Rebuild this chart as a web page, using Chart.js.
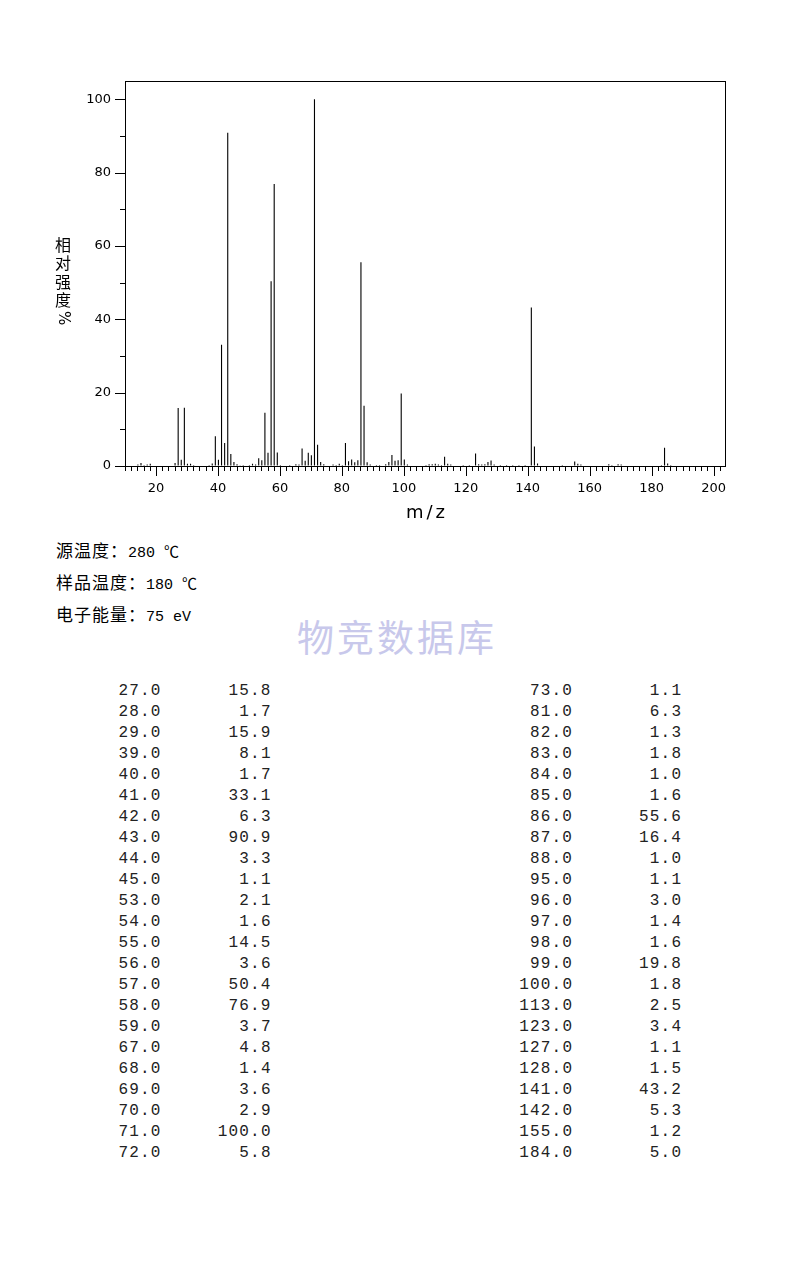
<!DOCTYPE html>
<html>
<head>
<meta charset="utf-8">
<script src="https://cdn.jsdelivr.net/npm/chart.js@4.4.0/dist/chart.umd.min.js"></script>
<style>
  body { margin: 0; background: #fff; width: 794px; height: 1276px; position: relative; overflow: hidden; }
  #ms { position: absolute; left: 0; top: 0; }
  .info { position: absolute; left: 56px; font: 15px "Liberation Mono", "Noto Sans CJK SC"; color: #000; line-height: 20px; white-space: pre; }
  .info .cj { font: 17px "Noto Sans CJK SC"; letter-spacing: 1px; }
  .mark { position: absolute; left: 0; width: 794px; text-align: center; font: 37px "Noto Sans CJK SC"; color: #c8c8eb; letter-spacing: 3px; line-height: 44px; }
  .cell { position: absolute; left: 0; text-align: right; font: 16px "Liberation Mono"; letter-spacing: 1.2px; line-height: 21px; color: #222; white-space: pre; }
</style>
</head>
<body>
<canvas id="ms" width="794" height="530"></canvas>
<script>
// peaks listed in the table (m/z, relative intensity %)
const tableMz = [27, 28, 29, 39, 40, 41, 42, 43, 44, 45, 53, 54, 55, 56, 57, 58, 59, 67, 68, 69, 70, 71, 72,
                 73, 81, 82, 83, 84, 85, 86, 87, 88, 95, 96, 97, 98, 99, 100, 113, 123, 127, 128, 141, 142, 155, 184];
const tableInt = [15.8, 1.7, 15.9, 8.1, 1.7, 33.1, 6.3, 90.9, 3.3, 1.1, 2.1, 1.6, 14.5, 3.6, 50.4, 76.9, 3.7, 4.8, 1.4, 3.6, 2.9, 100.0, 5.8,
                  1.1, 6.3, 1.3, 1.8, 1.0, 1.6, 55.6, 16.4, 1.0, 1.1, 3.0, 1.4, 1.6, 19.8, 1.8, 2.5, 3.4, 1.1, 1.5, 43.2, 5.3, 1.2, 5.0];

// small peaks (< 1 %)
const minorMz = [14, 15, 16, 17, 18, 26, 30, 31, 32, 37, 38, 46, 47, 48, 50, 51, 52, 60, 63, 65, 66, 74, 77, 78, 79, 80,
                 89, 91, 92, 94, 101, 107, 108, 109, 110, 111, 112, 114, 115, 119, 121, 124, 125, 126, 129, 131, 133,
                 135, 137, 139, 143, 151, 156, 157, 166, 167, 169, 170, 183, 185, 186];
const minorInt = [0.4, 0.8, 0.3, 0.4, 0.6, 0.8, 0.6, 0.6, 0.3, 0.3, 0.7, 0.5, 0.2, 0.3, 0.3, 0.6, 0.4, 0.3, 0.3, 0.5, 0.4, 0.5, 0.4, 0.3, 0.6, 0.3,
                  0.4, 0.3, 0.3, 0.5, 0.4, 0.3, 0.5, 0.5, 0.6, 0.4, 0.3, 0.6, 0.4, 0.3, 0.3, 0.5, 0.4, 0.5, 0.4, 0.3, 0.3,
                  0.3, 0.3, 0.3, 0.7, 0.3, 0.6, 0.4, 0.5, 0.3, 0.5, 0.4, 0.3, 0.7, 0.3];

const xMin = 10, xMax = 204;
const yMax = 105;
const xLabelStep = 20, yLabelStep = 20;

const infoLabels = ['源温度：', '样品温度：', '电子能量：'];
const infoValues = ['280 ℃', '180 ℃', '75 eV'];
const yTitle = ['相', '对', '强', '度'];

const points = [];
tableMz.forEach((m, i) => points.push({ x: m, y: tableInt[i] }));
minorMz.forEach((m, i) => points.push({ x: m, y: minorInt[i] }));
points.sort((a, b) => a.x - b.x);

// nudge the 1px sticks onto whole pixels so they stay sharp
const crisp = {
  id: 'crisp',
  beforeDatasetsDraw(chart) { chart.ctx.save(); chart.ctx.translate(0.5, 0); },
  afterDatasetsDraw(chart) { chart.ctx.restore(); }
};

// frame, tick marks and axis titles
const decor = {
  id: 'decor',
  afterDraw(chart) {
    const c = chart.ctx, a = chart.chartArea;
    const xs = chart.scales.x, ys = chart.scales.y;
    c.save();
    c.strokeStyle = '#000';
    c.lineWidth = 1;
    c.strokeRect(a.left + 0.5, a.top + 0.5, a.right - a.left - 1, a.bottom - a.top);
    c.beginPath();
    for (let v = xMin; v < xMax; v += 2) {
      const px = Math.round(xs.getPixelForValue(v)) + 0.5;
      const len = v % xLabelStep === 0 ? 10 : 5;
      c.moveTo(px, a.bottom);
      c.lineTo(px, a.bottom + len);
    }
    for (let v = 0; v <= 100; v += 10) {
      const py = Math.round(ys.getPixelForValue(v)) + 0.5;
      const len = v % yLabelStep === 0 ? 10 : 5;
      c.moveTo(a.left, py);
      c.lineTo(a.left - len, py);
    }
    c.stroke();

    c.fillStyle = '#000';
    c.textAlign = 'center';
    c.textBaseline = 'middle';
    c.font = '18px "DejaVu Sans"';
    c.letterSpacing = '3px';
    c.fillText('m/z', (a.left + a.right) / 2 + 1.5, 513);
    c.letterSpacing = '0px';

    c.font = '16px "Noto Sans CJK SC"';
    yTitle.forEach((ch, i) => c.fillText(ch, 63, 245 + i * 18.3));
    c.translate(63, 245 + 4 * 18.3);
    c.rotate(Math.PI / 2);
    c.font = '15px "DejaVu Sans"';
    c.fillText('%', 0, 0);
    c.restore();
  }
};

new Chart(document.getElementById('ms').getContext('2d'), {
  type: 'bar',
  data: {
    datasets: [{
      data: points,
      backgroundColor: '#000',
      borderWidth: 0,
      inflateAmount: 0,
      barThickness: 1.1
    }]
  },
  options: {
    responsive: false,
    animation: false,
    layout: { padding: { left: 0, top: 81, right: 68, bottom: 0 } },
    plugins: {
      legend: { display: false },
      tooltip: { enabled: false }
    },
    scales: {
      x: {
        type: 'linear',
        min: xMin,
        max: xMax,
        offset: false,
        grid: { display: true, offset: false, drawOnChartArea: false, tickLength: 10, tickColor: 'rgba(0,0,0,0)' },
        border: { display: false },
        ticks: {
          stepSize: 2,
          autoSkip: false,
          maxRotation: 0,
          padding: 5,
          color: '#000',
          font: { family: 'DejaVu Sans', size: 13 },
          callback: v => (v % xLabelStep === 0 ? v : '')
        },
        afterFit: s => { s.height = 64; }
      },
      y: {
        min: 0,
        max: yMax,
        grid: { display: true, drawOnChartArea: false, tickLength: 10, tickColor: 'rgba(0,0,0,0)' },
        border: { display: false },
        ticks: {
          stepSize: 10,
          padding: 4,
          color: '#000',
          font: { family: 'DejaVu Sans', size: 13 },
          callback: v => (v % yLabelStep === 0 && v <= 100 ? v : '')
        },
        afterFit: s => { s.width = 125; }
      }
    }
  },
  plugins: [crisp, decor]
});

// experiment notes
infoLabels.forEach((lab, i) => {
  const d = document.createElement('div');
  d.className = 'info';
  d.style.top = (537 + i * 32) + 'px';
  const s = document.createElement('span');
  s.className = 'cj';
  s.textContent = lab;
  d.appendChild(s);
  d.appendChild(document.createTextNode(infoValues[i]));
  document.body.appendChild(d);
});

const wm = document.createElement('div');
wm.className = 'mark';
wm.style.top = '614px';
wm.textContent = '物竞数据库';
document.body.appendChild(wm);

// peak table, two column pairs
const half = Math.ceil(tableMz.length / 2);
const colRight = [160.5, 270.5, 572, 681];
function cell(text, right, row) {
  const d = document.createElement('div');
  d.className = 'cell';
  d.style.width = (right + 1.2) + 'px';
  d.style.top = (691 + row * 21 - 9.6) + 'px';
  d.textContent = text;
  document.body.appendChild(d);
}
tableMz.forEach((m, i) => {
  const side = i < half ? 0 : 2;
  const row = i < half ? i : i - half;
  cell(m.toFixed(1), colRight[side], row);
  cell(tableInt[i].toFixed(1), colRight[side + 1], row);
});
</script>
</body>
</html>
